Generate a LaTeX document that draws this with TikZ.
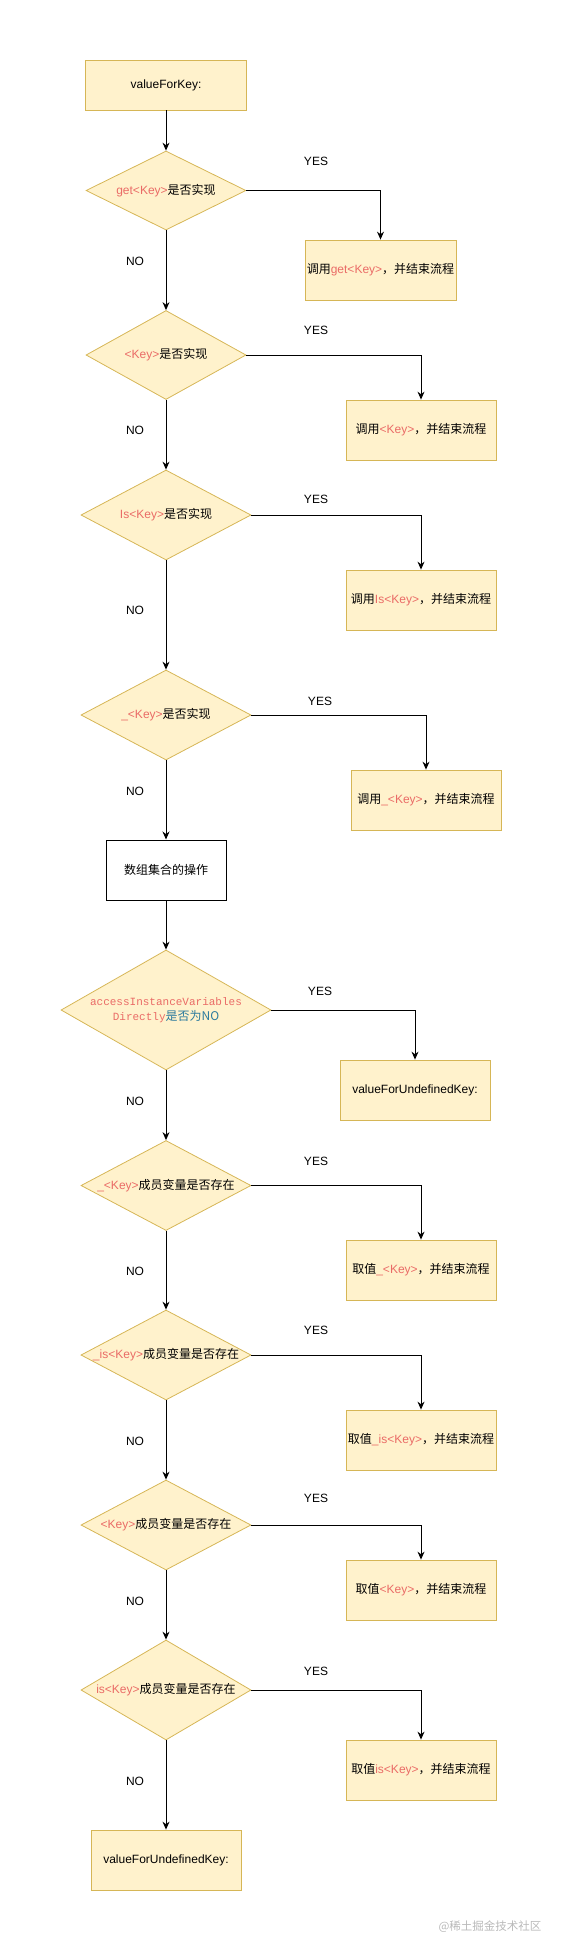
\documentclass[tikz,border=0pt]{standalone}
\usepackage{fontspec}
\setmainfont{Liberation Sans}
\setmonofont{Liberation Mono}
\newfontfamily\cjk{Noto Sans CJK SC}
\usepackage{tikz}
\usetikzlibrary{shapes.geometric,arrows.meta,positioning}
\definecolor{boxfill}{HTML}{FFF2CC}
\definecolor{boxline}{HTML}{D6B656}
\definecolor{keyred}{HTML}{EA6B66}
\definecolor{noblue}{HTML}{2B7A9E}
\newcommand{\zh}[1]{{\cjk #1}}
\newcommand{\kw}[1]{\textcolor{keyred}{#1}}

\begin{document}
\begin{tikzpicture}[x=1pt, y=-1pt, font=\fontsize{12}{14}\selectfont,
    proc/.style={draw=boxline, fill=boxfill, line width=0.8pt, minimum width=150pt, minimum height=60pt, inner sep=0pt},
    decide/.style={diamond, draw=boxline, fill=boxfill, line width=0.8pt, aspect=1.9, inner sep=0pt, minimum width=170pt, minimum height=90pt},
    flow/.style={-{Stealth[length=8pt,width=7pt]}, line width=1pt},
    lbl/.style={inner sep=0pt}]
    \useasboundingbox (0,0) rectangle (561,1951);

    % Start
    \node[proc, minimum width=161pt, minimum height=50pt] (start) at (166,85) {valueForKey:};

    % get<Key>
    \node[decide, minimum width=160pt, minimum height=79pt] (d1) at (166,190.5) {\kw{get<Key>}\zh{是否实现}};
    \node[proc, minimum width=151pt] (c1) at (380.5,270) {\zh{调用}\kw{get<Key>}\zh{，并结束流程}};
    \node[lbl] (y1) at (316,161) {YES};
    \node[lbl] (n1) at (135,261) {NO};

    % <Key>
    \node[decide, minimum width=160pt, minimum height=89pt] (d2) at (166,355) {\kw{<Key>}\zh{是否实现}};
    \node[proc] (c2) at (421,430) {\zh{调用}\kw{<Key>}\zh{，并结束流程}};
    \node[lbl] (y2) at (316,330) {YES};
    \node[lbl] (n2) at (135,430) {NO};

    % Is<Key>
    \node[decide] (d3) at (166,515) {\kw{Is<Key>}\zh{是否实现}};
    \node[proc] (c3) at (421,600) {\zh{调用}\kw{Is<Key>}\zh{，并结束流程}};
    \node[lbl] (y3) at (316,499) {YES};
    \node[lbl] (n3) at (135,610) {NO};

    % _<Key>
    \node[decide] (d4) at (166,715) {\kw{\_<Key>}\zh{是否实现}};
    \node[proc] (c4) at (426,800) {\zh{调用}\kw{\_<Key>}\zh{，并结束流程}};
    \node[lbl] (y4) at (320,701) {YES};
    \node[lbl] (n4) at (135,791) {NO};

    % collection accessors
    \node[draw, fill=white, line width=1pt, minimum width=120pt, minimum height=60pt] (coll) at (166,870) {\zh{数组集合的操作}};

    % accessInstanceVariablesDirectly
    \node[decide, minimum width=210pt, minimum height=120pt, align=center, font=\fontsize{11}{15}\selectfont\ttfamily] (d5) at (166,1010)
        {\kw{accessInstanceVariables}\\\kw{Directly}\textcolor{noblue}{\fontsize{12}{15}\selectfont\zh{是否为NO}}};
    \node[proc] (c5) at (415,1090) {valueForUndefinedKey:};
    \node[lbl] (y5) at (320,991) {YES};
    \node[lbl] (n5) at (135,1101) {NO};

    % _<Key> ivar
    \node[decide] (d6) at (166,1185.5) {\kw{\_<Key>}\zh{成员变量是否存在}};
    \node[proc] (c6) at (421,1270) {\zh{取值}\kw{\_<Key>}\zh{，并结束流程}};
    \node[lbl] (y6) at (316,1161) {YES};
    \node[lbl] (n6) at (135,1271) {NO};

    % _is<Key> ivar
    \node[decide] (d7) at (166,1355) {\kw{\_is<Key>}\zh{成员变量是否存在}};
    \node[proc] (c7) at (421,1440) {\zh{取值}\kw{\_is<Key>}\zh{，并结束流程}};
    \node[lbl] (y7) at (316,1330) {YES};
    \node[lbl] (n7) at (135,1441) {NO};

    % <Key> ivar
    \node[decide] (d8) at (166,1525) {\kw{<Key>}\zh{成员变量是否存在}};
    \node[proc] (c8) at (421,1590) {\zh{取值}\kw{<Key>}\zh{，并结束流程}};
    \node[lbl] (y8) at (316,1498) {YES};
    \node[lbl] (n8) at (135,1601) {NO};

    % is<Key> ivar
    \node[decide, minimum height=100pt] (d9) at (166,1690) {\kw{is<Key>}\zh{成员变量是否存在}};
    \node[proc] (c9) at (421,1770) {\zh{取值}\kw{is<Key>}\zh{，并结束流程}};
    \node[lbl] (y9) at (316,1671) {YES};
    \node[lbl] (n9) at (135,1781) {NO};

    % End
    \node[proc] (fail) at (166,1860) {valueForUndefinedKey:};

    % watermark
    \node[lbl, text=gray!55, font=\fontsize{11.5}{14}\selectfont] (mark) at (490,1927) {\zh{@稀土掘金技术社区}};

    % Arrows
    \draw[flow] (start) -- (d1);
    \draw[flow] (d1) -- (d2);
    \draw[flow] (d2) -- (d3);
    \draw[flow] (d3) -- (d4);
    \draw[flow] (d4) -- (coll);
    \draw[flow] (coll) -- (d5);
    \draw[flow] (d5) -- (d6);
    \draw[flow] (d6) -- (d7);
    \draw[flow] (d7) -- (d8);
    \draw[flow] (d8) -- (d9);
    \draw[flow] (d9) -- (fail);
    \draw[flow] (d1.east) -| (c1.north);
    \draw[flow] (d2.east) -| (c2.north);
    \draw[flow] (d3.east) -| (c3.north);
    \draw[flow] (d4.east) -| (c4.north);
    \draw[flow] (d5.east) -| (c5.north);
    \draw[flow] (d6.east) -| (c6.north);
    \draw[flow] (d7.east) -| (c7.north);
    \draw[flow] (d8.east) -| (c8.north);
    \draw[flow] (d9.east) -| (c9.north);
\end{tikzpicture}
\end{document}
